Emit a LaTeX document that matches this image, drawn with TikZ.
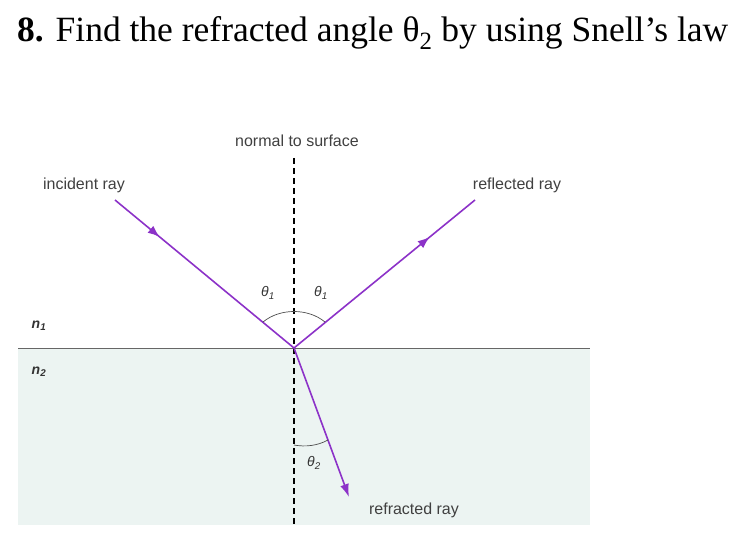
\documentclass[tikz,border=0pt]{standalone}
\usepackage{fontspec}
\setmainfont{Liberation Serif}
\newfontfamily\lab{Liberation Sans}
\usetikzlibrary{arrows.meta,decorations.markings}
\definecolor{ray}{RGB}{140,50,200}
\definecolor{med}{RGB}{236,244,242}
\tikzset{
 lbl/.style={font=\lab\fontsize{16}{18}\selectfont, text=black!75, inner sep=0pt},
 sym/.style={font=\lab\itshape\fontsize{14}{16}\selectfont, text=black!80, inner sep=0pt},
 raystyle/.style={ray, line width=1.6pt},
 arcstyle/.style={black!70, line width=0.7pt},
}
\begin{document}
\begin{tikzpicture}[x=1pt,y=-1pt]
\useasboundingbox (0,0) rectangle (750,548);
\fill[med] (18,348) rectangle (590,525);
\draw[black!60, line width=0.8pt] (18,348) -- (590,348);
\node[anchor=base west, inner sep=0pt, font=\fontsize{35.5}{40}\selectfont] (title) at (17,42) {\textbf{8.} Find the refracted angle θ\textsubscript{2} by using Snell’s law};
\coordinate (o) at (294,348);
\coordinate (top) at (294,158);
\coordinate (bot) at (294,525);
\coordinate (a) at (115,200);
\coordinate (b) at (475,200);
\coordinate (c) at (349,497);
\draw[black, line width=1.3pt, dash pattern=on 6pt off 4pt] (top) -- (bot);
\draw[raystyle, postaction={decorate},decoration={markings,mark=at position 0.25 with {\arrow{Latex[length=12pt,width=9pt]}}}] (a) -- (o);
\draw[raystyle, postaction={decorate},decoration={markings,mark=at position 0.75 with {\arrow{Latex[length=12pt,width=9pt]}}}] (o) -- (b);
\draw[raystyle, -{Latex[length=13pt,width=9pt]}] (o) -- (c);
\draw[arcstyle] (263,322) .. controls (280,308) and (308,308) .. (325,322);
\draw[arcstyle] (294,445) .. controls (305,447) and (317,446) .. (328,440);
\node[lbl] (n1) at (297,141) {normal to surface};
\node[lbl] (inc) at (84,185) {incident ray};
\node[lbl] (refl) at (517,185) {reflected ray};
\node[lbl] (refr) at (414,510) {refracted ray};
\node[sym] (t1a) at (268,293) {θ\textsubscript{1}};
\node[sym] (t1b) at (321,293) {θ\textsubscript{1}};
\node[sym] (t2) at (314,463) {θ\textsubscript{2}};
\node[sym, font=\lab\bfseries\itshape\fontsize{14}{16}\selectfont] (m1) at (39,326) {n\textsubscript{1}};
\node[sym, font=\lab\bfseries\itshape\fontsize{14}{16}\selectfont] (m2) at (39,372) {n\textsubscript{2}};
\end{tikzpicture}
\end{document}
